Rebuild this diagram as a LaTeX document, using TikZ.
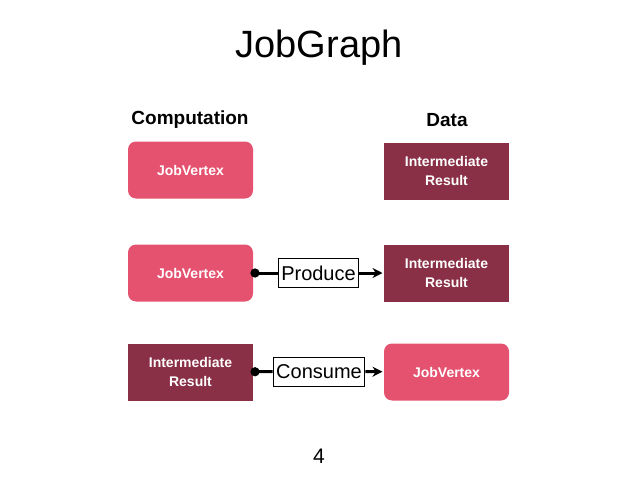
\documentclass[tikz,border=0pt]{standalone}
\usepackage{fontspec}
\setmainfont{Liberation Sans}
\usepackage{tikz}
\usetikzlibrary{arrows.meta, positioning}
\definecolor{mPink}{HTML}{E5526F}
\definecolor{mWine}{HTML}{8A3046}

\begin{document}
\begin{tikzpicture}[x=1pt, y=-1pt,
      >={Stealth[length=10pt, width=10pt]}, line width=3pt,
      jv/.style={rectangle, rounded corners=8pt, fill=mPink, text=white,
                 minimum width=125pt, minimum height=57pt, inner sep=0pt,
                 font=\fontsize{14}{19}\selectfont\bfseries},
      ir/.style={jv, rounded corners=0pt, fill=mWine, align=center},
      act/.style={rectangle, draw, line width=1pt, fill=white,
                  minimum height=29pt, inner xsep=3pt, inner ysep=0pt,
                  font=\fontsize{20}{22}\selectfont},
      head/.style={font=\fontsize{19}{22}\selectfont\bfseries}]
    \useasboundingbox (0,0) rectangle (638,479);
    \node[font=\fontsize{38}{44}\selectfont] (title) at (319,48) {JobGraph};
    \node[head] (comp) at (190,120) {Computation};
    \node[head] (data) at (447,120) {Data};
    % first row
    \node[jv] (jv1) at (190.5,170) {JobVertex};
    \node[ir] (ir1) at (446.5,171) {Intermediate\\Result};
    % second row
    \node[jv] (jv2) at (190.5,273) {JobVertex};
    \node[act] (prod) at (318.5,273) {Produce};
    \node[ir] (ir2) at (446.5,273) {Intermediate\\Result};
    % third row
    \node[ir] (ir3) at (190.5,372) {Intermediate\\Result};
    \node[act] (cons) at (319,371.5) {Consume};
    \node[jv] (jv3) at (446.5,372) {JobVertex};
    \draw[{Circle[length=9pt]}-, shorten <=-4pt] (jv2) -- (prod);
    \draw[->] (prod) -- (ir2);
    \draw[{Circle[length=9pt]}-, shorten <=-4pt] (ir3) -- (cons);
    \draw[->] (cons) -- (jv3);
    \node[font=\fontsize{21}{24}\selectfont] (page) at (319,456) {4};
  \end{tikzpicture}
\end{document}
